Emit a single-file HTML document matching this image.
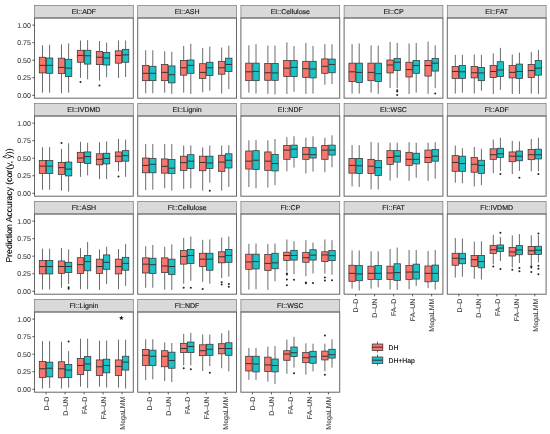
<!DOCTYPE html>
<html><head><meta charset="utf-8"><style>
html,body{margin:0;padding:0;background:#fff;}
svg{display:block;}
text{font-family:"Liberation Sans",Arial,sans-serif;text-rendering:geometricPrecision;}
.strip{fill:#D9D9D9;stroke:#777;stroke-width:0.7;}
.panel{fill:none;stroke:#666;stroke-width:1;}
.st{font-size:7px;fill:#1a1a1a;stroke:#1a1a1a;stroke-width:0.15px;text-anchor:middle;}
.yt{font-size:7px;fill:#3d3d3d;stroke:#3d3d3d;stroke-width:0.08px;text-anchor:end;}
.xt{font-size:7px;fill:#333;stroke:#333;stroke-width:0.04px;text-anchor:end;}
.tk{stroke:#333;stroke-width:0.8;fill:none;}
.wh{stroke:#444;stroke-width:0.8;fill:none;}
.br{fill:#F8766D;stroke:#333;stroke-width:0.75;}
.bt{fill:#1CC3C6;stroke:#333;stroke-width:0.75;}
.md{stroke:#333;stroke-width:1;fill:none;}
.out{fill:#222;}
.star{font-size:6.4px;fill:#000;text-anchor:middle;}
.lg{font-size:6.8px;fill:#000;stroke:#000;stroke-width:0.12px;}
.yl{font-size:8.6px;fill:#000;stroke:#000;stroke-width:0.12px;text-anchor:middle;}
</style></head><body>
<svg width="550" height="434" viewBox="0 0 550 434">
<rect x="34.5" y="5.5" width="98.8" height="12.5" class="strip"/>
<text x="83.9" y="14.1" class="st">EI::ADF</text>
<rect x="34.5" y="18" width="98.8" height="80.2" class="panel"/>
<path d="M42.49 45.28V57.26M42.49 72.93V92.65" class="wh"/>
<rect x="39.29" y="57.26" width="6.4" height="15.67" class="br"/>
<path d="M39.29 65.37H45.69" class="md"/>
<path d="M49.61 44.73V58M49.61 73.3V92.65" class="wh"/>
<rect x="46.41" y="58" width="6.4" height="15.3" class="bt"/>
<path d="M46.41 65.37H52.81" class="md"/>
<path d="M61.49 44.36V58.18M61.49 73.67V93.21" class="wh"/>
<rect x="58.29" y="58.18" width="6.4" height="15.48" class="br"/>
<path d="M58.29 67.4H64.69" class="md"/>
<path d="M68.61 43.44V59.29M68.61 76.62V92.65" class="wh"/>
<rect x="65.41" y="59.29" width="6.4" height="17.33" class="bt"/>
<path d="M65.41 68.14H71.81" class="md"/>
<path d="M80.49 40.49V50.26M80.49 62.24V77.91" class="wh"/>
<rect x="77.29" y="50.26" width="6.4" height="11.98" class="br"/>
<path d="M77.29 55.42H83.69" class="md"/>
<circle cx="80.49" cy="81.96" r="1" class="out"/>
<path d="M87.61 40.12V50.26M87.61 64.08V79.38" class="wh"/>
<rect x="84.41" y="50.26" width="6.4" height="13.82" class="bt"/>
<path d="M84.41 55.79H90.81" class="md"/>
<path d="M99.49 41.04V51.55M99.49 64.64V80.67" class="wh"/>
<rect x="96.29" y="51.55" width="6.4" height="13.09" class="br"/>
<path d="M96.29 57.26H102.69" class="md"/>
<circle cx="99.49" cy="85.47" r="1" class="out"/>
<path d="M106.61 42.52V52.47M106.61 65V77.35" class="wh"/>
<rect x="103.41" y="52.47" width="6.4" height="12.53" class="bt"/>
<path d="M103.41 58H109.81" class="md"/>
<path d="M118.49 40.49V50.81M118.49 63.16V77.91" class="wh"/>
<rect x="115.29" y="50.81" width="6.4" height="12.35" class="br"/>
<path d="M115.29 55.42H121.69" class="md"/>
<path d="M125.61 40.49V49.34M125.61 62.24V76.99" class="wh"/>
<rect x="122.41" y="49.34" width="6.4" height="12.9" class="bt"/>
<path d="M122.41 54.87H128.81" class="md"/>
<path d="M32.3 95.3H34.5" class="tk"/>
<text x="30.9" y="97.8" class="yt">0.00</text>
<path d="M32.3 77.75H34.5" class="tk"/>
<text x="30.9" y="80.25" class="yt">0.25</text>
<path d="M32.3 60.2H34.5" class="tk"/>
<text x="30.9" y="62.7" class="yt">0.50</text>
<path d="M32.3 42.65H34.5" class="tk"/>
<text x="30.9" y="45.15" class="yt">0.75</text>
<path d="M32.3 25.1H34.5" class="tk"/>
<text x="30.9" y="27.6" class="yt">1.00</text>
<rect x="137.7" y="5.5" width="98.8" height="12.5" class="strip"/>
<text x="187.1" y="14.1" class="st">EI::ASH</text>
<rect x="137.7" y="18" width="98.8" height="80.2" class="panel"/>
<path d="M145.69 50.26V65.56M145.69 80.67V93.21" class="wh"/>
<rect x="142.49" y="65.56" width="6.4" height="15.12" class="br"/>
<path d="M142.49 73.3H148.89" class="md"/>
<path d="M152.81 50.26V66.29M152.81 80.67V93.21" class="wh"/>
<rect x="149.61" y="66.29" width="6.4" height="14.38" class="bt"/>
<path d="M149.61 73.3H156.01" class="md"/>
<path d="M164.69 51.18V64.45M164.69 80.67V92.65" class="wh"/>
<rect x="161.49" y="64.45" width="6.4" height="16.22" class="br"/>
<path d="M161.49 72.38H167.89" class="md"/>
<path d="M171.81 51.73V65.93M171.81 82.88V93.94" class="wh"/>
<rect x="168.61" y="65.93" width="6.4" height="16.96" class="bt"/>
<path d="M168.61 74.77H175.01" class="md"/>
<path d="M183.69 46.02V60.4M183.69 75.14V92.65" class="wh"/>
<rect x="180.49" y="60.4" width="6.4" height="14.75" class="br"/>
<path d="M180.49 67.77H186.89" class="md"/>
<path d="M190.81 43.81V60.03M190.81 73.3V93.94" class="wh"/>
<rect x="187.61" y="60.03" width="6.4" height="13.27" class="bt"/>
<path d="M187.61 65.37H194.01" class="md"/>
<path d="M202.69 48.05V63.71M202.69 78.46V92.29" class="wh"/>
<rect x="199.49" y="63.71" width="6.4" height="14.75" class="br"/>
<path d="M199.49 72.38H205.89" class="md"/>
<path d="M209.81 46.57V62.24M209.81 75.51V90.81" class="wh"/>
<rect x="206.61" y="62.24" width="6.4" height="13.27" class="bt"/>
<path d="M206.61 67.77H213.01" class="md"/>
<path d="M221.69 47.49V61.32M221.69 74.22V93.58" class="wh"/>
<rect x="218.49" y="61.32" width="6.4" height="12.9" class="br"/>
<path d="M218.49 67.77H224.89" class="md"/>
<path d="M228.81 45.65V58.18M228.81 71.46V88.97" class="wh"/>
<rect x="225.61" y="58.18" width="6.4" height="13.27" class="bt"/>
<path d="M225.61 64.45H232.01" class="md"/>
<rect x="240.9" y="5.5" width="98.8" height="12.5" class="strip"/>
<text x="290.3" y="14.1" class="st">EI::Cellulose</text>
<rect x="240.9" y="18" width="98.8" height="80.2" class="panel"/>
<path d="M248.89 45.28V63.16M248.89 80.67V92.65" class="wh"/>
<rect x="245.69" y="63.16" width="6.4" height="17.51" class="br"/>
<path d="M245.69 71.82H252.09" class="md"/>
<path d="M256.01 44.18V63.16M256.01 80.67V93.58" class="wh"/>
<rect x="252.81" y="63.16" width="6.4" height="17.51" class="bt"/>
<path d="M252.81 71.46H259.21" class="md"/>
<path d="M267.89 45.65V63.53M267.89 80.3V93.94" class="wh"/>
<rect x="264.69" y="63.53" width="6.4" height="16.77" class="br"/>
<path d="M264.69 72.75H271.09" class="md"/>
<path d="M275.01 45.65V63.53M275.01 80.3V94.5" class="wh"/>
<rect x="271.81" y="63.53" width="6.4" height="16.77" class="bt"/>
<path d="M271.81 72.93H278.21" class="md"/>
<path d="M286.89 42.33V60.4M286.89 76.62V93.94" class="wh"/>
<rect x="283.69" y="60.4" width="6.4" height="16.22" class="br"/>
<path d="M283.69 68.14H290.09" class="md"/>
<path d="M294.01 46.02V60.4M294.01 76.62V91.73" class="wh"/>
<rect x="290.81" y="60.4" width="6.4" height="16.22" class="bt"/>
<path d="M290.81 67.4H297.21" class="md"/>
<path d="M305.89 42.88V61.32M305.89 77.35V93.94" class="wh"/>
<rect x="302.69" y="61.32" width="6.4" height="16.04" class="br"/>
<path d="M302.69 68.69H309.09" class="md"/>
<path d="M313.01 46.02V61.32M313.01 77.91V93.58" class="wh"/>
<rect x="309.81" y="61.32" width="6.4" height="16.59" class="bt"/>
<path d="M309.81 69.06H316.21" class="md"/>
<path d="M324.89 44.18V58.92M324.89 73.3V84.73" class="wh"/>
<rect x="321.69" y="58.92" width="6.4" height="14.38" class="br"/>
<path d="M321.69 66.29H328.09" class="md"/>
<path d="M332.01 44.36V59.11M332.01 72.75V83.99" class="wh"/>
<rect x="328.81" y="59.11" width="6.4" height="13.64" class="bt"/>
<path d="M328.81 64.45H335.21" class="md"/>
<rect x="344.1" y="5.5" width="98.8" height="12.5" class="strip"/>
<text x="393.5" y="14.1" class="st">EI::CP</text>
<rect x="344.1" y="18" width="98.8" height="80.2" class="panel"/>
<path d="M352.09 44.18V63.16M352.09 81.59V93.58" class="wh"/>
<rect x="348.89" y="63.16" width="6.4" height="18.43" class="br"/>
<path d="M348.89 71.82H355.29" class="md"/>
<path d="M359.21 43.44V63.16M359.21 82.52V93.58" class="wh"/>
<rect x="356.01" y="63.16" width="6.4" height="19.35" class="bt"/>
<path d="M356.01 72.38H362.41" class="md"/>
<path d="M371.09 45.28V63.16M371.09 80.67V92.65" class="wh"/>
<rect x="367.89" y="63.16" width="6.4" height="17.51" class="br"/>
<path d="M367.89 72.38H374.29" class="md"/>
<path d="M378.21 45.65V63.16M378.21 81.59V93.94" class="wh"/>
<rect x="375.01" y="63.16" width="6.4" height="18.43" class="bt"/>
<path d="M375.01 73.67H381.41" class="md"/>
<path d="M390.09 41.96V60.03M390.09 72.93V88.05" class="wh"/>
<rect x="386.89" y="60.03" width="6.4" height="12.9" class="br"/>
<path d="M386.89 65H393.29" class="md"/>
<path d="M397.21 42.88V58.55M397.21 70.53V88.05" class="wh"/>
<rect x="394.01" y="58.55" width="6.4" height="11.98" class="bt"/>
<path d="M394.01 62.24H400.41" class="md"/>
<circle cx="397.21" cy="90.26" r="1" class="out"/>
<circle cx="397.21" cy="91.55" r="1" class="out"/>
<circle cx="397.21" cy="95.05" r="1" class="out"/>
<path d="M409.09 43.44V62.24M409.09 76.99V93.94" class="wh"/>
<rect x="405.89" y="62.24" width="6.4" height="14.75" class="br"/>
<path d="M405.89 69.61H412.29" class="md"/>
<path d="M416.21 42.88V60.4M416.21 73.3V92.65" class="wh"/>
<rect x="413.01" y="60.4" width="6.4" height="12.9" class="bt"/>
<path d="M413.01 65.56H419.41" class="md"/>
<path d="M428.09 41.59V60.4M428.09 76.06V93.94" class="wh"/>
<rect x="424.89" y="60.4" width="6.4" height="15.67" class="br"/>
<path d="M424.89 65.56H431.29" class="md"/>
<path d="M435.21 45.28V58.55M435.21 71.09V88.05" class="wh"/>
<rect x="432.01" y="58.55" width="6.4" height="12.53" class="bt"/>
<path d="M432.01 63.16H438.41" class="md"/>
<circle cx="435.21" cy="93.39" r="1" class="out"/>
<rect x="447.3" y="5.5" width="98.8" height="12.5" class="strip"/>
<text x="496.7" y="14.1" class="st">EI::FAT</text>
<rect x="447.3" y="18" width="98.8" height="80.2" class="panel"/>
<path d="M455.29 54.87V66.48M455.29 78.46V93.58" class="wh"/>
<rect x="452.09" y="66.48" width="6.4" height="11.98" class="br"/>
<path d="M452.09 71.46H458.49" class="md"/>
<path d="M462.41 54.87V65.56M462.41 78.46V92.65" class="wh"/>
<rect x="459.21" y="65.56" width="6.4" height="12.9" class="bt"/>
<path d="M459.21 71.82H465.61" class="md"/>
<path d="M474.29 54.5V66.48M474.29 77.91V93.58" class="wh"/>
<rect x="471.09" y="66.48" width="6.4" height="11.43" class="br"/>
<path d="M471.09 72.75H477.49" class="md"/>
<path d="M481.41 54.87V67.4M481.41 80.67V90.81" class="wh"/>
<rect x="478.21" y="67.4" width="6.4" height="13.27" class="bt"/>
<path d="M478.21 72.93H484.61" class="md"/>
<path d="M493.29 53.39V65.37M493.29 77.54V93.94" class="wh"/>
<rect x="490.09" y="65.37" width="6.4" height="12.17" class="br"/>
<path d="M490.09 71.46H496.49" class="md"/>
<path d="M500.41 47.86V61.69M500.41 76.62V89.89" class="wh"/>
<rect x="497.21" y="61.69" width="6.4" height="14.93" class="bt"/>
<path d="M497.21 69.98H503.61" class="md"/>
<path d="M512.29 54.5V65.56M512.29 77.91V93.94" class="wh"/>
<rect x="509.09" y="65.56" width="6.4" height="12.35" class="br"/>
<path d="M509.09 72.38H515.49" class="md"/>
<path d="M519.41 52.65V64.08M519.41 78.46V93.94" class="wh"/>
<rect x="516.21" y="64.08" width="6.4" height="14.38" class="bt"/>
<path d="M516.21 71.46H522.61" class="md"/>
<path d="M531.29 52.1V64.45M531.29 77.54V93.58" class="wh"/>
<rect x="528.09" y="64.45" width="6.4" height="13.09" class="br"/>
<path d="M528.09 70.53H534.49" class="md"/>
<path d="M538.41 49.89V60.4M538.41 75.14V93.94" class="wh"/>
<rect x="535.21" y="60.4" width="6.4" height="14.75" class="bt"/>
<path d="M535.21 68.14H541.61" class="md"/>
<rect x="34.5" y="103.5" width="98.8" height="12.5" class="strip"/>
<text x="83.9" y="112.1" class="st">EI::IVDMD</text>
<rect x="34.5" y="116" width="98.8" height="80.2" class="panel"/>
<path d="M42.49 147.34V160.61M42.49 173.51V189.73" class="wh"/>
<rect x="39.29" y="160.61" width="6.4" height="12.9" class="br"/>
<path d="M39.29 166.14H45.69" class="md"/>
<path d="M49.61 146.97V160.61M49.61 173.51V189.73" class="wh"/>
<rect x="46.41" y="160.61" width="6.4" height="12.9" class="bt"/>
<path d="M46.41 166.14H52.81" class="md"/>
<path d="M61.49 148.81V162.45M61.49 174.62V190.65" class="wh"/>
<rect x="58.29" y="162.45" width="6.4" height="12.17" class="br"/>
<path d="M58.29 167.61H64.69" class="md"/>
<circle cx="61.49" cy="143.1" r="1" class="out"/>
<path d="M68.61 143.28V162.08M68.61 175.91V191.58" class="wh"/>
<rect x="65.41" y="162.08" width="6.4" height="13.82" class="bt"/>
<path d="M65.41 169.09H71.81" class="md"/>
<path d="M80.49 141.81V152.31M80.49 162.45V176.83" class="wh"/>
<rect x="77.29" y="152.31" width="6.4" height="10.14" class="br"/>
<path d="M77.29 158.03H83.69" class="md"/>
<path d="M87.61 142.73V151.94M87.61 163.56V175.35" class="wh"/>
<rect x="84.41" y="151.94" width="6.4" height="11.61" class="bt"/>
<path d="M84.41 156.55H90.81" class="md"/>
<path d="M99.49 142.18V153.79M99.49 164.85V179.04" class="wh"/>
<rect x="96.29" y="153.79" width="6.4" height="11.06" class="br"/>
<path d="M96.29 159.32H102.69" class="md"/>
<path d="M106.61 141.44V153.24M106.61 163.93V179.04" class="wh"/>
<rect x="103.41" y="153.24" width="6.4" height="10.69" class="bt"/>
<path d="M103.41 158.4H109.81" class="md"/>
<path d="M118.49 139.04V151.94M118.49 161.71V171.3" class="wh"/>
<rect x="115.29" y="151.94" width="6.4" height="9.77" class="br"/>
<path d="M115.29 156.18H121.69" class="md"/>
<circle cx="118.49" cy="176.46" r="1" class="out"/>
<path d="M125.61 139.59V150.65M125.61 161.16V176.83" class="wh"/>
<rect x="122.41" y="150.65" width="6.4" height="10.51" class="bt"/>
<path d="M122.41 155.63H128.81" class="md"/>
<path d="M32.3 193.3H34.5" class="tk"/>
<text x="30.9" y="195.8" class="yt">0.00</text>
<path d="M32.3 175.75H34.5" class="tk"/>
<text x="30.9" y="178.25" class="yt">0.25</text>
<path d="M32.3 158.2H34.5" class="tk"/>
<text x="30.9" y="160.7" class="yt">0.50</text>
<path d="M32.3 140.65H34.5" class="tk"/>
<text x="30.9" y="143.15" class="yt">0.75</text>
<path d="M32.3 123.1H34.5" class="tk"/>
<text x="30.9" y="125.6" class="yt">1.00</text>
<rect x="137.7" y="103.5" width="98.8" height="12.5" class="strip"/>
<text x="187.1" y="112.1" class="st">EI::Lignin</text>
<rect x="137.7" y="116" width="98.8" height="80.2" class="panel"/>
<path d="M145.69 144.02V158.03M145.69 172.77V190.1" class="wh"/>
<rect x="142.49" y="158.03" width="6.4" height="14.75" class="br"/>
<path d="M142.49 165.4H148.89" class="md"/>
<path d="M152.81 144.02V158.4M152.81 172.77V189.73" class="wh"/>
<rect x="149.61" y="158.4" width="6.4" height="14.38" class="bt"/>
<path d="M149.61 164.29H156.01" class="md"/>
<path d="M164.69 144.02V158.95M164.69 173.14V188.26" class="wh"/>
<rect x="161.49" y="158.95" width="6.4" height="14.19" class="br"/>
<path d="M161.49 166.32H167.89" class="md"/>
<path d="M171.81 144.02V159.5M171.81 173.51V190.65" class="wh"/>
<rect x="168.61" y="159.5" width="6.4" height="14.01" class="bt"/>
<path d="M168.61 168.17H175.01" class="md"/>
<path d="M183.69 145.49V156.18M183.69 170.38V188.81" class="wh"/>
<rect x="180.49" y="156.18" width="6.4" height="14.19" class="br"/>
<path d="M180.49 162.64H186.89" class="md"/>
<path d="M190.81 145.49V154.71M190.81 168.53V188.26" class="wh"/>
<rect x="187.61" y="154.71" width="6.4" height="13.82" class="bt"/>
<path d="M187.61 161.16H194.01" class="md"/>
<path d="M202.69 147.34V156.18M202.69 170.75V190.65" class="wh"/>
<rect x="199.49" y="156.18" width="6.4" height="14.56" class="br"/>
<path d="M199.49 162.45H205.89" class="md"/>
<path d="M209.81 145.49V156.18M209.81 168.53V182.73" class="wh"/>
<rect x="206.61" y="156.18" width="6.4" height="12.35" class="bt"/>
<path d="M206.61 163H213.01" class="md"/>
<circle cx="209.81" cy="190.65" r="1" class="out"/>
<path d="M221.69 145.49V155.26M221.69 171.3V190.65" class="wh"/>
<rect x="218.49" y="155.26" width="6.4" height="16.04" class="br"/>
<path d="M218.49 162.08H224.89" class="md"/>
<path d="M228.81 145.12V153.79M228.81 167.98V186.97" class="wh"/>
<rect x="225.61" y="153.79" width="6.4" height="14.19" class="bt"/>
<path d="M225.61 160.24H232.01" class="md"/>
<rect x="240.9" y="103.5" width="98.8" height="12.5" class="strip"/>
<text x="290.3" y="112.1" class="st">EI::NDF</text>
<rect x="240.9" y="116" width="98.8" height="80.2" class="panel"/>
<path d="M248.89 140.33V151.02M248.89 169.09V186.97" class="wh"/>
<rect x="245.69" y="151.02" width="6.4" height="18.06" class="br"/>
<path d="M245.69 161.16H252.09" class="md"/>
<path d="M256.01 139.96V150.65M256.01 169.46V188.26" class="wh"/>
<rect x="252.81" y="150.65" width="6.4" height="18.8" class="bt"/>
<path d="M252.81 160.24H259.21" class="md"/>
<path d="M267.89 140.33V151.94M267.89 170.38V187.52" class="wh"/>
<rect x="264.69" y="151.94" width="6.4" height="18.43" class="br"/>
<path d="M264.69 161.16H271.09" class="md"/>
<path d="M275.01 139.04V154.34M275.01 170.93V185.12" class="wh"/>
<rect x="271.81" y="154.34" width="6.4" height="16.59" class="bt"/>
<path d="M271.81 163.56H278.21" class="md"/>
<path d="M286.89 137.2V145.49M286.89 159.32V171.3" class="wh"/>
<rect x="283.69" y="145.49" width="6.4" height="13.82" class="br"/>
<path d="M283.69 150.1H290.09" class="md"/>
<path d="M294.01 136.28V145.12M294.01 157.47V167.61" class="wh"/>
<rect x="290.81" y="145.12" width="6.4" height="12.35" class="bt"/>
<path d="M290.81 149.18H297.21" class="md"/>
<path d="M305.89 137.75V147.34M305.89 159.32V173.51" class="wh"/>
<rect x="302.69" y="147.34" width="6.4" height="11.98" class="br"/>
<path d="M302.69 154.34H309.09" class="md"/>
<path d="M313.01 136.28V147.71M313.01 158.03V171.67" class="wh"/>
<rect x="309.81" y="147.71" width="6.4" height="10.32" class="bt"/>
<path d="M309.81 154.71H316.21" class="md"/>
<path d="M324.89 137.75V145.49M324.89 159.32V172.22" class="wh"/>
<rect x="321.69" y="145.49" width="6.4" height="13.82" class="br"/>
<path d="M321.69 150.1H328.09" class="md"/>
<path d="M332.01 135.35V145.12M332.01 155.08V167.24" class="wh"/>
<rect x="328.81" y="145.12" width="6.4" height="9.95" class="bt"/>
<path d="M328.81 150.1H335.21" class="md"/>
<rect x="344.1" y="103.5" width="98.8" height="12.5" class="strip"/>
<text x="393.5" y="112.1" class="st">EI::WSC</text>
<rect x="344.1" y="116" width="98.8" height="80.2" class="panel"/>
<path d="M352.09 145.12V158.4M352.09 173.14V186.41" class="wh"/>
<rect x="348.89" y="158.4" width="6.4" height="14.75" class="br"/>
<path d="M348.89 165.4H355.29" class="md"/>
<path d="M359.21 145.12V158.4M359.21 173.51V186.97" class="wh"/>
<rect x="356.01" y="158.4" width="6.4" height="15.12" class="bt"/>
<path d="M356.01 165.77H362.41" class="md"/>
<path d="M371.09 141.81V159.32M371.09 173.51V189.36" class="wh"/>
<rect x="367.89" y="159.32" width="6.4" height="14.19" class="br"/>
<path d="M367.89 166.14H374.29" class="md"/>
<path d="M378.21 142.73V160.61M378.21 175.35V189.36" class="wh"/>
<rect x="375.01" y="160.61" width="6.4" height="14.75" class="bt"/>
<path d="M375.01 167.61H381.41" class="md"/>
<path d="M390.09 142.73V150.65M390.09 164.48V180.52" class="wh"/>
<rect x="386.89" y="150.65" width="6.4" height="13.82" class="br"/>
<path d="M386.89 157.47H393.29" class="md"/>
<path d="M397.21 142.73V150.65M397.21 162.08V177.75" class="wh"/>
<rect x="394.01" y="150.65" width="6.4" height="11.43" class="bt"/>
<path d="M394.01 156.18H400.41" class="md"/>
<path d="M409.09 142.18V152.31M409.09 165.4V180.88" class="wh"/>
<rect x="405.89" y="152.31" width="6.4" height="13.09" class="br"/>
<path d="M405.89 159.32H412.29" class="md"/>
<path d="M416.21 142.73V153.24M416.21 163.93V177.75" class="wh"/>
<rect x="413.01" y="153.24" width="6.4" height="10.69" class="bt"/>
<path d="M413.01 159.32H419.41" class="md"/>
<path d="M428.09 142.73V150.1M428.09 162.64V180.88" class="wh"/>
<rect x="424.89" y="150.1" width="6.4" height="12.53" class="br"/>
<path d="M424.89 157.47H431.29" class="md"/>
<path d="M435.21 142.18V149.55M435.21 161.16V178.67" class="wh"/>
<rect x="432.01" y="149.55" width="6.4" height="11.61" class="bt"/>
<path d="M432.01 156.18H438.41" class="md"/>
<rect x="447.3" y="103.5" width="98.8" height="12.5" class="strip"/>
<text x="496.7" y="112.1" class="st">FI::ADF</text>
<rect x="447.3" y="116" width="98.8" height="80.2" class="panel"/>
<path d="M455.29 145.49V155.63M455.29 171.3V182.73" class="wh"/>
<rect x="452.09" y="155.63" width="6.4" height="15.67" class="br"/>
<path d="M452.09 162.45H458.49" class="md"/>
<path d="M462.41 148.26V156.18M462.41 171.3V183.28" class="wh"/>
<rect x="459.21" y="156.18" width="6.4" height="15.12" class="bt"/>
<path d="M459.21 163.56H465.61" class="md"/>
<path d="M474.29 146.97V157.47M474.29 172.22V186.41" class="wh"/>
<rect x="471.09" y="157.47" width="6.4" height="14.75" class="br"/>
<path d="M471.09 164.29H477.49" class="md"/>
<path d="M481.41 148.81V160.24M481.41 173.51V185.12" class="wh"/>
<rect x="478.21" y="160.24" width="6.4" height="13.27" class="bt"/>
<path d="M478.21 165.4H484.61" class="md"/>
<path d="M493.29 139.59V148.81M493.29 159.32V173.14" class="wh"/>
<rect x="490.09" y="148.81" width="6.4" height="10.51" class="br"/>
<path d="M490.09 154.71H496.49" class="md"/>
<path d="M500.41 137.75V148.26M500.41 157.47V170.93" class="wh"/>
<rect x="497.21" y="148.26" width="6.4" height="9.22" class="bt"/>
<path d="M497.21 153.79H503.61" class="md"/>
<circle cx="500.41" cy="174.06" r="1" class="out"/>
<path d="M512.29 140.88V151.94M512.29 161.71V174.06" class="wh"/>
<rect x="509.09" y="151.94" width="6.4" height="9.77" class="br"/>
<path d="M509.09 156.18H515.49" class="md"/>
<path d="M519.41 141.44V151.02M519.41 160.79V170.93" class="wh"/>
<rect x="516.21" y="151.02" width="6.4" height="9.77" class="bt"/>
<path d="M516.21 156.18H522.61" class="md"/>
<circle cx="519.41" cy="177.75" r="1" class="out"/>
<path d="M531.29 139.04V149.55M531.29 159.69V171.3" class="wh"/>
<rect x="528.09" y="149.55" width="6.4" height="10.14" class="br"/>
<path d="M528.09 154.71H534.49" class="md"/>
<path d="M538.41 137.75V149.18M538.41 158.95V171.3" class="wh"/>
<rect x="535.21" y="149.18" width="6.4" height="9.77" class="bt"/>
<path d="M535.21 154.71H541.61" class="md"/>
<circle cx="538.41" cy="174.06" r="1" class="out"/>
<rect x="34.5" y="201.5" width="98.8" height="12.5" class="strip"/>
<text x="83.9" y="210.1" class="st">FI::ASH</text>
<rect x="34.5" y="214" width="98.8" height="80.2" class="panel"/>
<path d="M42.49 248.65V260.45M42.49 273.91V289.58" class="wh"/>
<rect x="39.29" y="260.45" width="6.4" height="13.46" class="br"/>
<path d="M39.29 266.53H45.69" class="md"/>
<path d="M49.61 248.65V260.45M49.61 273.91V289.58" class="wh"/>
<rect x="46.41" y="260.45" width="6.4" height="13.46" class="bt"/>
<path d="M46.41 266.53H52.81" class="md"/>
<path d="M61.49 248.1V261M61.49 273.35V287.73" class="wh"/>
<rect x="58.29" y="261" width="6.4" height="12.35" class="br"/>
<path d="M58.29 266.53H64.69" class="md"/>
<path d="M68.61 249.39V262.29M68.61 272.62V284.05" class="wh"/>
<rect x="65.41" y="262.29" width="6.4" height="10.32" class="bt"/>
<path d="M65.41 266.53H71.81" class="md"/>
<circle cx="68.61" cy="287.36" r="1" class="out"/>
<circle cx="68.61" cy="288.65" r="1" class="out"/>
<path d="M80.49 248.1V257.69M80.49 273.35V289.21" class="wh"/>
<rect x="77.29" y="257.69" width="6.4" height="15.67" class="br"/>
<path d="M77.29 264.69H83.69" class="md"/>
<path d="M87.61 242.02V255.47M87.61 270.77V289.21" class="wh"/>
<rect x="84.41" y="255.47" width="6.4" height="15.3" class="bt"/>
<path d="M84.41 261.56H90.81" class="md"/>
<path d="M99.49 249.39V259.16M99.49 273.35V289.94" class="wh"/>
<rect x="96.29" y="259.16" width="6.4" height="14.19" class="br"/>
<path d="M96.29 266.53H102.69" class="md"/>
<path d="M106.61 246.81V254.92M106.61 269.3V284.05" class="wh"/>
<rect x="103.41" y="254.92" width="6.4" height="14.38" class="bt"/>
<path d="M103.41 262.29H109.81" class="md"/>
<path d="M118.49 249.02V259.16M118.49 273.91V289.21" class="wh"/>
<rect x="115.29" y="259.16" width="6.4" height="14.75" class="br"/>
<path d="M115.29 266.53H121.69" class="md"/>
<path d="M125.61 243.86V257.32M125.61 270.22V285.89" class="wh"/>
<rect x="122.41" y="257.32" width="6.4" height="12.9" class="bt"/>
<path d="M122.41 263.4H128.81" class="md"/>
<path d="M32.3 291.3H34.5" class="tk"/>
<text x="30.9" y="293.8" class="yt">0.00</text>
<path d="M32.3 273.75H34.5" class="tk"/>
<text x="30.9" y="276.25" class="yt">0.25</text>
<path d="M32.3 256.2H34.5" class="tk"/>
<text x="30.9" y="258.7" class="yt">0.50</text>
<path d="M32.3 238.65H34.5" class="tk"/>
<text x="30.9" y="241.15" class="yt">0.75</text>
<path d="M32.3 221.1H34.5" class="tk"/>
<text x="30.9" y="223.6" class="yt">1.00</text>
<rect x="137.7" y="201.5" width="98.8" height="12.5" class="strip"/>
<text x="187.1" y="210.1" class="st">FI::Cellulose</text>
<rect x="137.7" y="214" width="98.8" height="80.2" class="panel"/>
<path d="M145.69 246.26V257.87M145.69 272.99V287.73" class="wh"/>
<rect x="142.49" y="257.87" width="6.4" height="15.12" class="br"/>
<path d="M142.49 264.14H148.89" class="md"/>
<path d="M152.81 244.97V258.24M152.81 273.35V287.73" class="wh"/>
<rect x="149.61" y="258.24" width="6.4" height="15.12" class="bt"/>
<path d="M149.61 264.69H156.01" class="md"/>
<path d="M164.69 246.81V257.87M164.69 272.62V289.58" class="wh"/>
<rect x="161.49" y="257.87" width="6.4" height="14.75" class="br"/>
<path d="M161.49 265.98H167.89" class="md"/>
<path d="M171.81 244.41V259.16M171.81 274.46V289.94" class="wh"/>
<rect x="168.61" y="259.16" width="6.4" height="15.3" class="bt"/>
<path d="M168.61 266.53H175.01" class="md"/>
<path d="M183.69 237.96V250.5M183.69 264.14V283.68" class="wh"/>
<rect x="180.49" y="250.5" width="6.4" height="13.64" class="br"/>
<path d="M180.49 256.4H186.89" class="md"/>
<circle cx="183.69" cy="287.73" r="1" class="out"/>
<path d="M190.81 236.49V249.58M190.81 263.4V280.73" class="wh"/>
<rect x="187.61" y="249.58" width="6.4" height="13.82" class="bt"/>
<path d="M187.61 255.47H194.01" class="md"/>
<circle cx="190.81" cy="287.73" r="1" class="out"/>
<path d="M202.69 239.81V253.26M202.69 266.53V281.83" class="wh"/>
<rect x="199.49" y="253.26" width="6.4" height="13.27" class="br"/>
<path d="M199.49 259.16H205.89" class="md"/>
<circle cx="202.69" cy="289.02" r="1" class="out"/>
<path d="M209.81 239.44V253.26M209.81 270.22V283.68" class="wh"/>
<rect x="206.61" y="253.26" width="6.4" height="16.96" class="bt"/>
<path d="M206.61 259.16H213.01" class="md"/>
<path d="M221.69 237.59V251.79M221.69 262.85V278.15" class="wh"/>
<rect x="218.49" y="251.79" width="6.4" height="11.06" class="br"/>
<path d="M218.49 256.76H224.89" class="md"/>
<circle cx="221.69" cy="282.2" r="1" class="out"/>
<circle cx="221.69" cy="284.6" r="1" class="out"/>
<path d="M228.81 236.49V249.58M228.81 262.29V276.67" class="wh"/>
<rect x="225.61" y="249.58" width="6.4" height="12.72" class="bt"/>
<path d="M225.61 255.47H232.01" class="md"/>
<circle cx="228.81" cy="284.05" r="1" class="out"/>
<circle cx="228.81" cy="286.81" r="1" class="out"/>
<rect x="240.9" y="201.5" width="98.8" height="12.5" class="strip"/>
<text x="290.3" y="210.1" class="st">FI::CP</text>
<rect x="240.9" y="214" width="98.8" height="80.2" class="panel"/>
<path d="M248.89 243.86V254.18M248.89 269.3V289.58" class="wh"/>
<rect x="245.69" y="254.18" width="6.4" height="15.12" class="br"/>
<path d="M245.69 261.93H252.09" class="md"/>
<path d="M256.01 243.49V254.18M256.01 268.93V289.21" class="wh"/>
<rect x="252.81" y="254.18" width="6.4" height="14.75" class="bt"/>
<path d="M252.81 261.56H259.21" class="md"/>
<path d="M267.89 243.86V254.55M267.89 270.59V289.94" class="wh"/>
<rect x="264.69" y="254.55" width="6.4" height="16.04" class="br"/>
<path d="M264.69 263.4H271.09" class="md"/>
<path d="M275.01 243.49V253.26M275.01 268.75V281.28" class="wh"/>
<rect x="271.81" y="253.26" width="6.4" height="15.48" class="bt"/>
<path d="M271.81 262.85H278.21" class="md"/>
<path d="M286.89 239.44V252.16M286.89 260.45V271.51" class="wh"/>
<rect x="283.69" y="252.16" width="6.4" height="8.29" class="br"/>
<path d="M283.69 255.47H290.09" class="md"/>
<circle cx="286.89" cy="273.54" r="1" class="out"/>
<circle cx="286.89" cy="274.46" r="1" class="out"/>
<circle cx="286.89" cy="279.44" r="1" class="out"/>
<circle cx="286.89" cy="285.15" r="1" class="out"/>
<path d="M294.01 241.28V250.31M294.01 260.08V274.28" class="wh"/>
<rect x="290.81" y="250.31" width="6.4" height="9.77" class="bt"/>
<path d="M290.81 255.47H297.21" class="md"/>
<circle cx="294.01" cy="279.81" r="1" class="out"/>
<path d="M305.89 240.18V252.34M305.89 262.29V276.3" class="wh"/>
<rect x="302.69" y="252.34" width="6.4" height="9.95" class="br"/>
<path d="M302.69 257.69H309.09" class="md"/>
<circle cx="305.89" cy="282.39" r="1" class="out"/>
<circle cx="305.89" cy="283.31" r="1" class="out"/>
<path d="M313.01 242.57V249.76M313.01 260.08V273.54" class="wh"/>
<rect x="309.81" y="249.76" width="6.4" height="10.32" class="bt"/>
<path d="M309.81 255.11H316.21" class="md"/>
<circle cx="313.01" cy="283.12" r="1" class="out"/>
<path d="M324.89 239.44V251.79M324.89 261.56V273.54" class="wh"/>
<rect x="321.69" y="251.79" width="6.4" height="9.77" class="br"/>
<path d="M321.69 254.92H328.09" class="md"/>
<circle cx="324.89" cy="277.41" r="1" class="out"/>
<circle cx="324.89" cy="280.54" r="1" class="out"/>
<path d="M332.01 240.18V250.5M332.01 260.64V274.65" class="wh"/>
<rect x="328.81" y="250.5" width="6.4" height="10.14" class="bt"/>
<path d="M328.81 255.66H335.21" class="md"/>
<circle cx="332.01" cy="280.36" r="1" class="out"/>
<rect x="344.1" y="201.5" width="98.8" height="12.5" class="strip"/>
<text x="393.5" y="210.1" class="st">FI::FAT</text>
<rect x="344.1" y="214" width="98.8" height="80.2" class="panel"/>
<path d="M352.09 250.5V265.24M352.09 281.28V288.65" class="wh"/>
<rect x="348.89" y="265.24" width="6.4" height="16.04" class="br"/>
<path d="M348.89 273.35H355.29" class="md"/>
<path d="M359.21 250.5V265.61M359.21 280.73V290.5" class="wh"/>
<rect x="356.01" y="265.61" width="6.4" height="15.12" class="bt"/>
<path d="M356.01 273.91H362.41" class="md"/>
<path d="M371.09 251.24V266.17M371.09 279.44V288.65" class="wh"/>
<rect x="367.89" y="266.17" width="6.4" height="13.27" class="br"/>
<path d="M367.89 273.35H374.29" class="md"/>
<path d="M378.21 251.24V265.61M378.21 279.44V287.36" class="wh"/>
<rect x="375.01" y="265.61" width="6.4" height="13.82" class="bt"/>
<path d="M375.01 273.35H381.41" class="md"/>
<path d="M390.09 249.02V266.17M390.09 279.44V289.58" class="wh"/>
<rect x="386.89" y="266.17" width="6.4" height="13.27" class="br"/>
<path d="M386.89 272.99H393.29" class="md"/>
<path d="M397.21 247.55V263.77M397.21 280.36V289.94" class="wh"/>
<rect x="394.01" y="263.77" width="6.4" height="16.59" class="bt"/>
<path d="M394.01 272.62H400.41" class="md"/>
<path d="M409.09 249.94V265.61M409.09 279.44V289.21" class="wh"/>
<rect x="405.89" y="265.61" width="6.4" height="13.82" class="br"/>
<path d="M405.89 272.06H412.29" class="md"/>
<path d="M416.21 249.94V264.14M416.21 279.07V285.89" class="wh"/>
<rect x="413.01" y="264.14" width="6.4" height="14.93" class="bt"/>
<path d="M413.01 272.06H419.41" class="md"/>
<path d="M428.09 250.87V265.98M428.09 281.83V288.1" class="wh"/>
<rect x="424.89" y="265.98" width="6.4" height="15.85" class="br"/>
<path d="M424.89 273.35H431.29" class="md"/>
<path d="M435.21 249.94V265.06M435.21 281.28V289.58" class="wh"/>
<rect x="432.01" y="265.06" width="6.4" height="16.22" class="bt"/>
<path d="M432.01 273.35H438.41" class="md"/>
<path d="M355.65 294.2V296.4" class="tk"/>
<text transform="translate(358.35,298.6) rotate(-90)" class="xt">D–D</text>
<path d="M374.65 294.2V296.4" class="tk"/>
<text transform="translate(377.35,298.6) rotate(-90)" class="xt">D–UN</text>
<path d="M393.65 294.2V296.4" class="tk"/>
<text transform="translate(396.35,298.6) rotate(-90)" class="xt">FA–D</text>
<path d="M412.65 294.2V296.4" class="tk"/>
<text transform="translate(415.35,298.6) rotate(-90)" class="xt">FA–UN</text>
<path d="M431.65 294.2V296.4" class="tk"/>
<text transform="translate(434.35,298.6) rotate(-90)" class="xt">MegaLMM</text>
<rect x="447.3" y="201.5" width="98.8" height="12.5" class="strip"/>
<text x="496.7" y="210.1" class="st">FI::IVDMD</text>
<rect x="447.3" y="214" width="98.8" height="80.2" class="panel"/>
<path d="M455.29 237.96V253.26M455.29 265.24V277.59" class="wh"/>
<rect x="452.09" y="253.26" width="6.4" height="11.98" class="br"/>
<path d="M452.09 258.24H458.49" class="md"/>
<path d="M462.41 238.33V253.26M462.41 263.77V276.67" class="wh"/>
<rect x="459.21" y="253.26" width="6.4" height="10.51" class="bt"/>
<path d="M459.21 258.79H465.61" class="md"/>
<path d="M474.29 241.65V255.47M474.29 266.53V278.88" class="wh"/>
<rect x="471.09" y="255.47" width="6.4" height="11.06" class="br"/>
<path d="M471.09 259.71H477.49" class="md"/>
<path d="M481.41 241.28V255.47M481.41 267.82V279.44" class="wh"/>
<rect x="478.21" y="255.47" width="6.4" height="12.35" class="bt"/>
<path d="M478.21 261.56H484.61" class="md"/>
<path d="M493.29 234.83V245.34M493.29 253.45V264.32" class="wh"/>
<rect x="490.09" y="245.34" width="6.4" height="8.11" class="br"/>
<path d="M490.09 249.76H496.49" class="md"/>
<circle cx="493.29" cy="266.53" r="1" class="out"/>
<path d="M500.41 237.04V244.97M500.41 251.6V261" class="wh"/>
<rect x="497.21" y="244.97" width="6.4" height="6.64" class="bt"/>
<path d="M497.21 248.1H503.61" class="md"/>
<circle cx="500.41" cy="232.8" r="1" class="out"/>
<circle cx="500.41" cy="269.12" r="1" class="out"/>
<path d="M512.29 235.38V247.55M512.29 256.03V267.46" class="wh"/>
<rect x="509.09" y="247.55" width="6.4" height="8.48" class="br"/>
<path d="M509.09 251.97H515.49" class="md"/>
<circle cx="512.29" cy="269.67" r="1" class="out"/>
<path d="M519.41 234.09V245.52M519.41 254.74V263.03" class="wh"/>
<rect x="516.21" y="245.52" width="6.4" height="9.22" class="bt"/>
<path d="M516.21 249.94H522.61" class="md"/>
<circle cx="519.41" cy="268.01" r="1" class="out"/>
<circle cx="519.41" cy="271.33" r="1" class="out"/>
<path d="M531.29 235.2V246.44M531.29 254.37V264.88" class="wh"/>
<rect x="528.09" y="246.44" width="6.4" height="7.93" class="br"/>
<path d="M528.09 250.68H534.49" class="md"/>
<circle cx="531.29" cy="266.35" r="1" class="out"/>
<circle cx="531.29" cy="267.46" r="1" class="out"/>
<circle cx="531.29" cy="271.88" r="1" class="out"/>
<path d="M538.41 235.2V246.26M538.41 254.37V262.48" class="wh"/>
<rect x="535.21" y="246.26" width="6.4" height="8.11" class="bt"/>
<path d="M535.21 250.13H541.61" class="md"/>
<circle cx="538.41" cy="233.54" r="1" class="out"/>
<circle cx="538.41" cy="265.8" r="1" class="out"/>
<circle cx="538.41" cy="268.75" r="1" class="out"/>
<circle cx="538.41" cy="274.28" r="1" class="out"/>
<path d="M458.85 294.2V296.4" class="tk"/>
<text transform="translate(461.55,298.6) rotate(-90)" class="xt">D–D</text>
<path d="M477.85 294.2V296.4" class="tk"/>
<text transform="translate(480.55,298.6) rotate(-90)" class="xt">D–UN</text>
<path d="M496.85 294.2V296.4" class="tk"/>
<text transform="translate(499.55,298.6) rotate(-90)" class="xt">FA–D</text>
<path d="M515.85 294.2V296.4" class="tk"/>
<text transform="translate(518.55,298.6) rotate(-90)" class="xt">FA–UN</text>
<path d="M534.85 294.2V296.4" class="tk"/>
<text transform="translate(537.55,298.6) rotate(-90)" class="xt">MegaLMM</text>
<rect x="34.5" y="299.5" width="98.8" height="12.5" class="strip"/>
<text x="83.9" y="308.1" class="st">FI::Lignin</text>
<rect x="34.5" y="312" width="98.8" height="80.2" class="panel"/>
<path d="M42.49 341.12V361.4M42.49 377.44V388.5" class="wh"/>
<rect x="39.29" y="361.4" width="6.4" height="16.04" class="br"/>
<path d="M39.29 368.77H45.69" class="md"/>
<path d="M49.61 341.12V362.14M49.61 376.88V387.94" class="wh"/>
<rect x="46.41" y="362.14" width="6.4" height="14.75" class="bt"/>
<path d="M46.41 368.22H52.81" class="md"/>
<path d="M61.49 341.86V361.77M61.49 377.81V388.5" class="wh"/>
<rect x="58.29" y="361.77" width="6.4" height="16.04" class="br"/>
<path d="M58.29 368.77H64.69" class="md"/>
<path d="M68.61 351.08V364.53M68.61 377.44V387.58" class="wh"/>
<rect x="65.41" y="364.53" width="6.4" height="12.9" class="bt"/>
<path d="M65.41 370.06H71.81" class="md"/>
<circle cx="68.61" cy="341.49" r="1" class="out"/>
<path d="M80.49 338.73V358.45M80.49 374.67V386.65" class="wh"/>
<rect x="77.29" y="358.45" width="6.4" height="16.22" class="br"/>
<path d="M77.29 365.46H83.69" class="md"/>
<path d="M87.61 338.73V356.61M87.61 370.62V387.94" class="wh"/>
<rect x="84.41" y="356.61" width="6.4" height="14.01" class="bt"/>
<path d="M84.41 363.98H90.81" class="md"/>
<path d="M99.49 340.57V359.93M99.49 375.59V386.65" class="wh"/>
<rect x="96.29" y="359.93" width="6.4" height="15.67" class="br"/>
<path d="M96.29 366.75H102.69" class="md"/>
<path d="M106.61 340.57V359.19M106.61 372.83V387.58" class="wh"/>
<rect x="103.41" y="359.19" width="6.4" height="13.64" class="bt"/>
<path d="M103.41 365.46H109.81" class="md"/>
<path d="M118.49 339.65V359.93M118.49 375.59V387.58" class="wh"/>
<rect x="115.29" y="359.93" width="6.4" height="15.67" class="br"/>
<path d="M115.29 366.38H121.69" class="md"/>
<path d="M125.61 339.65V356.24M125.61 370.06V388.5" class="wh"/>
<rect x="122.41" y="356.24" width="6.4" height="13.82" class="bt"/>
<path d="M122.41 362.14H128.81" class="md"/>
<text x="121.45" y="320.1" class="star">★</text>
<path d="M32.3 389.3H34.5" class="tk"/>
<text x="30.9" y="391.8" class="yt">0.00</text>
<path d="M32.3 371.75H34.5" class="tk"/>
<text x="30.9" y="374.25" class="yt">0.25</text>
<path d="M32.3 354.2H34.5" class="tk"/>
<text x="30.9" y="356.7" class="yt">0.50</text>
<path d="M32.3 336.65H34.5" class="tk"/>
<text x="30.9" y="339.15" class="yt">0.75</text>
<path d="M32.3 319.1H34.5" class="tk"/>
<text x="30.9" y="321.6" class="yt">1.00</text>
<path d="M46.05 392.2V394.4" class="tk"/>
<text transform="translate(48.75,396.6) rotate(-90)" class="xt">D–D</text>
<path d="M65.05 392.2V394.4" class="tk"/>
<text transform="translate(67.75,396.6) rotate(-90)" class="xt">D–UN</text>
<path d="M84.05 392.2V394.4" class="tk"/>
<text transform="translate(86.75,396.6) rotate(-90)" class="xt">FA–D</text>
<path d="M103.05 392.2V394.4" class="tk"/>
<text transform="translate(105.75,396.6) rotate(-90)" class="xt">FA–UN</text>
<path d="M122.05 392.2V394.4" class="tk"/>
<text transform="translate(124.75,396.6) rotate(-90)" class="xt">MegaLMM</text>
<rect x="137.7" y="299.5" width="98.8" height="12.5" class="strip"/>
<text x="187.1" y="308.1" class="st">FI::NDF</text>
<rect x="137.7" y="312" width="98.8" height="80.2" class="panel"/>
<path d="M145.69 339.28V349.42M145.69 365.46V380.2" class="wh"/>
<rect x="142.49" y="349.42" width="6.4" height="16.04" class="br"/>
<path d="M142.49 355.32H148.89" class="md"/>
<path d="M152.81 339.28V350.16M152.81 365.46V379.28" class="wh"/>
<rect x="149.61" y="350.16" width="6.4" height="15.3" class="bt"/>
<path d="M149.61 356.24H156.01" class="md"/>
<path d="M164.69 342.41V350.71M164.69 366.75V381.12" class="wh"/>
<rect x="161.49" y="350.71" width="6.4" height="16.04" class="br"/>
<path d="M161.49 356.24H167.89" class="md"/>
<path d="M171.81 342.97V352.18M171.81 368.22V382.05" class="wh"/>
<rect x="168.61" y="352.18" width="6.4" height="16.04" class="bt"/>
<path d="M168.61 360.48H175.01" class="md"/>
<path d="M183.69 333.75V343.34M183.69 352.55V365.46" class="wh"/>
<rect x="180.49" y="343.34" width="6.4" height="9.22" class="br"/>
<path d="M180.49 348.5H186.89" class="md"/>
<circle cx="183.69" cy="368.22" r="1" class="out"/>
<path d="M190.81 332.83V342.05M190.81 352.55V365.46" class="wh"/>
<rect x="187.61" y="342.05" width="6.4" height="10.51" class="bt"/>
<path d="M187.61 346.47H194.01" class="md"/>
<circle cx="190.81" cy="369.14" r="1" class="out"/>
<path d="M202.69 334.49V344.81M202.69 355.69V370.99" class="wh"/>
<rect x="199.49" y="344.81" width="6.4" height="10.88" class="br"/>
<path d="M199.49 350.71H205.89" class="md"/>
<path d="M209.81 334.49V344.26M209.81 355.32V366.01" class="wh"/>
<rect x="206.61" y="344.26" width="6.4" height="11.06" class="bt"/>
<path d="M206.61 349.24H213.01" class="md"/>
<circle cx="209.81" cy="372.83" r="1" class="out"/>
<path d="M221.69 333.2V343.71M221.69 353.84V368.22" class="wh"/>
<rect x="218.49" y="343.71" width="6.4" height="10.14" class="br"/>
<path d="M218.49 348.5H224.89" class="md"/>
<path d="M228.81 330.43V342.78M228.81 355.32V371.35" class="wh"/>
<rect x="225.61" y="342.78" width="6.4" height="12.53" class="bt"/>
<path d="M225.61 348.5H232.01" class="md"/>
<path d="M149.25 392.2V394.4" class="tk"/>
<text transform="translate(151.95,396.6) rotate(-90)" class="xt">D–D</text>
<path d="M168.25 392.2V394.4" class="tk"/>
<text transform="translate(170.95,396.6) rotate(-90)" class="xt">D–UN</text>
<path d="M187.25 392.2V394.4" class="tk"/>
<text transform="translate(189.95,396.6) rotate(-90)" class="xt">FA–D</text>
<path d="M206.25 392.2V394.4" class="tk"/>
<text transform="translate(208.95,396.6) rotate(-90)" class="xt">FA–UN</text>
<path d="M225.25 392.2V394.4" class="tk"/>
<text transform="translate(227.95,396.6) rotate(-90)" class="xt">MegaLMM</text>
<rect x="240.9" y="299.5" width="98.8" height="12.5" class="strip"/>
<text x="290.3" y="308.1" class="st">FI::WSC</text>
<rect x="240.9" y="312" width="98.8" height="80.2" class="panel"/>
<path d="M248.89 347.94V356.24M248.89 370.99V379.83" class="wh"/>
<rect x="245.69" y="356.24" width="6.4" height="14.75" class="br"/>
<path d="M245.69 363.61H252.09" class="md"/>
<path d="M256.01 347.94V356.24M256.01 371.91V379.83" class="wh"/>
<rect x="252.81" y="356.24" width="6.4" height="15.67" class="bt"/>
<path d="M252.81 363.98H259.21" class="md"/>
<path d="M267.89 346.65V357.16M267.89 371.54V381.68" class="wh"/>
<rect x="264.69" y="357.16" width="6.4" height="14.38" class="br"/>
<path d="M264.69 364.9H271.09" class="md"/>
<path d="M275.01 346.1V359M275.01 371.91V383.89" class="wh"/>
<rect x="271.81" y="359" width="6.4" height="12.9" class="bt"/>
<path d="M271.81 365.46H278.21" class="md"/>
<path d="M286.89 339.65V350.71M286.89 360.29V373.75" class="wh"/>
<rect x="283.69" y="350.71" width="6.4" height="9.59" class="br"/>
<path d="M283.69 354.03H290.09" class="md"/>
<path d="M294.01 336.88V347.02M294.01 356.61V367.67" class="wh"/>
<rect x="290.81" y="347.02" width="6.4" height="9.59" class="bt"/>
<path d="M290.81 352.74H297.21" class="md"/>
<circle cx="294.01" cy="373.2" r="1" class="out"/>
<path d="M305.89 343.34V352.55M305.89 362.69V374.67" class="wh"/>
<rect x="302.69" y="352.55" width="6.4" height="10.14" class="br"/>
<path d="M302.69 357.71H309.09" class="md"/>
<path d="M313.01 343.71V351.26M313.01 363.24V371.35" class="wh"/>
<rect x="309.81" y="351.26" width="6.4" height="11.98" class="bt"/>
<path d="M309.81 356.79H316.21" class="md"/>
<path d="M324.89 343.71V351.08M324.89 359.93V371.35" class="wh"/>
<rect x="321.69" y="351.08" width="6.4" height="8.85" class="br"/>
<path d="M321.69 356.24H328.09" class="md"/>
<circle cx="324.89" cy="335.59" r="1" class="out"/>
<circle cx="324.89" cy="374.67" r="1" class="out"/>
<path d="M332.01 339.28V349.24M332.01 358.08V367.67" class="wh"/>
<rect x="328.81" y="349.24" width="6.4" height="8.85" class="bt"/>
<path d="M328.81 354.76H335.21" class="md"/>
<path d="M252.45 392.2V394.4" class="tk"/>
<text transform="translate(255.15,396.6) rotate(-90)" class="xt">D–D</text>
<path d="M271.45 392.2V394.4" class="tk"/>
<text transform="translate(274.15,396.6) rotate(-90)" class="xt">D–UN</text>
<path d="M290.45 392.2V394.4" class="tk"/>
<text transform="translate(293.15,396.6) rotate(-90)" class="xt">FA–D</text>
<path d="M309.45 392.2V394.4" class="tk"/>
<text transform="translate(312.15,396.6) rotate(-90)" class="xt">FA–UN</text>
<path d="M328.45 392.2V394.4" class="tk"/>
<text transform="translate(331.15,396.6) rotate(-90)" class="xt">MegaLMM</text>
<path d="M377.5 341.5V352.5M377.5 354.5V365.5" class="wh"/>
<rect x="372.2" y="344" width="10.6" height="6.5" class="br"/>
<path d="M372.2 347.2H382.8" class="md"/>
<rect x="372.2" y="357" width="10.6" height="6.5" class="bt"/>
<path d="M372.2 360.2H382.8" class="md"/>
<text x="388.5" y="350" class="lg">DH</text>
<text x="388.5" y="363" class="lg">DH+Hap</text>
<text transform="translate(12,205.5) rotate(-90)" class="yl">Prediction Accuracy (cor(y, y))</text><text transform="translate(9.9,156.6) rotate(-90) scale(0.8,1.2)" class="yl">^</text>
</svg>
</body></html>
